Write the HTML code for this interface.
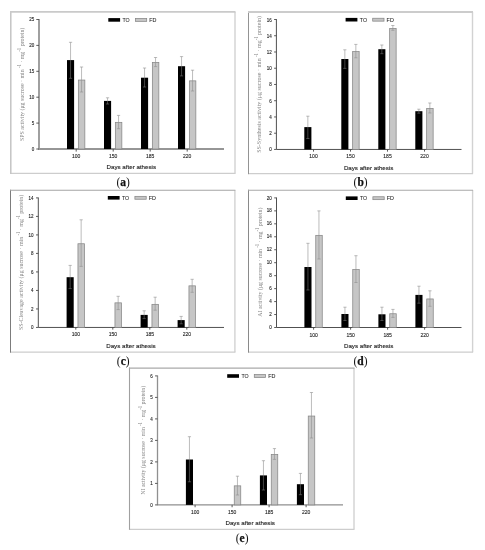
<!DOCTYPE html>
<html lang="en">
<head>
<meta charset="utf-8">
<title>Enzyme activity figure</title>
<style>
html,body{margin:0;padding:0;background:#fff;}
body{width:485px;height:550px;overflow:hidden;position:relative;}
svg{position:absolute;left:0;top:0;display:block;}
.tk{font-family:"Liberation Sans",Arial,sans-serif;font-size:4.5px;fill:#1c1c1c;stroke:#1c1c1c;stroke-width:0.1px;}
.xt{font-family:"Liberation Sans",Arial,sans-serif;font-size:6.18px;fill:#1a1a1a;stroke:#1a1a1a;stroke-width:0.12px;}
.lg{font-family:"Liberation Sans",Arial,sans-serif;font-size:5.4px;fill:#1a1a1a;stroke:#1a1a1a;stroke-width:0.05px;}
.yt{font-family:"Liberation Serif","Times New Roman",serif;fill:#858585;}
.cap{font-family:"Liberation Serif","Times New Roman",serif;font-size:11.5px;fill:#111;}
.cap tspan{font-weight:bold;stroke:#111;stroke-width:0.25px;}
.ax{stroke:#3a3a3a;stroke-width:0.8;fill:none;}
.eb{stroke:#8f8f8f;stroke-width:0.6;fill:none;}
.to{fill:#000;}
.fd{fill:#c6c6c6;stroke:#868686;stroke-width:0.75;}
.box{fill:#fff;stroke:#cfcfcf;stroke-width:1;}
</style>
</head>
<body>
<svg width="485" height="550" viewBox="0 0 485 550">
<g id="panel-a">
<path d="M235 11.9V173.4" stroke="#d2d2d2" stroke-width="1.4" fill="none"/>
<path d="M10.8 173.4H235.5" stroke="#cdcdcd" stroke-width="1.2" fill="none"/>
<path d="M10.8 10.95V173.9" stroke="#c4c4c4" stroke-width="1.5" fill="none"/>
<path d="M10.05 11.9H235.5" stroke="#cacaca" stroke-width="1.9" fill="none"/>
<path class="ax" d="M39 19.1V149H224" style="stroke:#969696;stroke-width:1.8"/>
<path class="ax" d="M36.3 149H39M36.3 123.1H39M36.3 97.2H39M36.3 71.3H39M36.3 45.4H39M36.3 19.5H39M76.2 149V151.6M113.2 149V151.6M150.2 149V151.6M187.2 149V151.6" style="stroke:#4a4a4a;stroke-width:0.9"/>
<rect class="to" x="67" y="60.1" width="7.1" height="88.9"/>
<path class="eb" d="M70.55 42.3V60.1M68.95 42.3H72.15"/>
<path class="eb" style="stroke:#6e6e6e" d="M70.55 60.1V78.3M68.95 78.3H72.15"/>
<rect class="fd" x="78.35" y="80.05" width="6.5" height="68.95"/>
<path class="eb" d="M81.55 67V92M79.95 67H83.15M79.95 92H83.15"/>
<rect class="to" x="104" y="100.9" width="7.1" height="48.1"/>
<path class="eb" d="M107.55 97.8V100.9M105.95 97.8H109.15"/>
<path class="eb" style="stroke:#6e6e6e" d="M107.55 100.9V104M105.95 104H109.15"/>
<rect class="fd" x="115.35" y="122.35" width="6.5" height="26.65"/>
<path class="eb" d="M118.55 115.4V128.7M116.95 115.4H120.15M116.95 128.7H120.15"/>
<rect class="to" x="141" y="77.7" width="7.1" height="71.3"/>
<path class="eb" d="M144.55 68V77.7M142.95 68H146.15"/>
<path class="eb" style="stroke:#6e6e6e" d="M144.55 77.7V87M142.95 87H146.15"/>
<rect class="fd" x="152.35" y="62.45" width="6.5" height="86.55"/>
<path class="eb" d="M155.55 57.5V66.6M153.95 57.5H157.15M153.95 66.6H157.15"/>
<rect class="to" x="178" y="66.2" width="7.1" height="82.8"/>
<path class="eb" d="M181.55 56.6V66.2M179.95 56.6H183.15"/>
<path class="eb" style="stroke:#6e6e6e" d="M181.55 66.2V75.9M179.95 75.9H183.15"/>
<rect class="fd" x="189.35" y="80.85" width="6.5" height="68.15"/>
<path class="eb" d="M192.55 70.2V91M190.95 70.2H194.15M190.95 91H194.15"/>
<text class="tk" x="34.3" y="150.6" text-anchor="end">0</text>
<text class="tk" x="34.3" y="124.7" text-anchor="end">5</text>
<text class="tk" x="34.3" y="98.8" text-anchor="end">10</text>
<text class="tk" x="34.3" y="72.9" text-anchor="end">15</text>
<text class="tk" x="34.3" y="47" text-anchor="end">20</text>
<text class="tk" x="34.3" y="21.1" text-anchor="end">25</text>
<text class="tk" style="font-size:5px" x="76.2" y="158.3" text-anchor="middle">100</text>
<text class="tk" style="font-size:5px" x="113.2" y="158.3" text-anchor="middle">150</text>
<text class="tk" style="font-size:5px" x="150.2" y="158.3" text-anchor="middle">185</text>
<text class="tk" style="font-size:5px" x="187.2" y="158.3" text-anchor="middle">220</text>
<text class="xt" x="131.3" y="169.1" text-anchor="middle">Days after athesis</text>
<rect class="to" x="108.3" y="18.1" width="11.8" height="3.6"/>
<text class="lg" x="122.5" y="21.55" textLength="7.2" lengthAdjust="spacingAndGlyphs">TO</text>
<rect class="fd" x="135.4" y="18.45" width="11.3" height="2.9"/>
<text class="lg" x="149.3" y="21.55" textLength="7.2" lengthAdjust="spacingAndGlyphs">FD</text>
<text class="yt" font-size="6.4" transform="translate(23.5 141) rotate(-90)" textLength="113.3" lengthAdjust="spacingAndGlyphs">SPS activity (μg sucrose · min<tspan dy="-3" font-size="5.12"> -1</tspan><tspan dy="3"> · mg</tspan><tspan dy="-3" font-size="5.12">-1</tspan><tspan dy="3"> protein)</tspan></text>
<text class="cap" x="123.2" y="186.3" text-anchor="middle">(<tspan>a</tspan>)</text>
</g>
<g id="panel-b">
<path d="M472.5 12V173.7" stroke="#d2d2d2" stroke-width="1.4" fill="none"/>
<path d="M248.5 173.7H473" stroke="#cdcdcd" stroke-width="1.2" fill="none"/>
<path d="M248.5 11.1V174.2" stroke="#949494" stroke-width="1" fill="none"/>
<path d="M248 12H473" stroke="#cccccc" stroke-width="1.8" fill="none"/>
<path class="ax" d="M276.4 19.1V149.45H461.5" style="stroke:#505050;stroke-width:1"/>
<path class="ax" d="M274.1 149.45H276.4M274.1 133.21H276.4M274.1 116.96H276.4M274.1 100.72H276.4M274.1 84.47H276.4M274.1 68.23H276.4M274.1 51.99H276.4M274.1 35.74H276.4M274.1 19.5H276.4M313.5 149.45V151.65M350.5 149.45V151.65M387.5 149.45V151.65M424.5 149.45V151.65" style="stroke:#4a4a4a;stroke-width:0.9"/>
<rect class="to" x="304.3" y="127.1" width="7.1" height="22.35"/>
<path class="eb" d="M307.85 116.2V127.1M306.25 116.2H309.45"/>
<path class="eb" style="stroke:#6e6e6e" d="M307.85 127.1V138.5M306.25 138.5H309.45"/>
<rect class="to" x="341.3" y="59" width="7.1" height="90.45"/>
<path class="eb" d="M344.85 49.8V59M343.25 49.8H346.45"/>
<path class="eb" style="stroke:#6e6e6e" d="M344.85 59V68.4M343.25 68.4H346.45"/>
<rect class="fd" x="352.65" y="51.55" width="6.5" height="97.9"/>
<path class="eb" d="M355.85 44.4V57.8M354.25 44.4H357.45M354.25 57.8H357.45"/>
<rect class="to" x="378.3" y="49.2" width="7.1" height="100.25"/>
<path class="eb" d="M381.85 45V49.2M380.25 45H383.45"/>
<path class="eb" style="stroke:#6e6e6e" d="M381.85 49.2V53.7M380.25 53.7H383.45"/>
<rect class="fd" x="389.65" y="28.45" width="6.5" height="121"/>
<path class="eb" d="M392.85 25.5V30.3M391.25 25.5H394.45M391.25 30.3H394.45"/>
<rect class="to" x="415.3" y="111.2" width="7.1" height="38.25"/>
<path class="eb" d="M418.85 109.2V111.2M417.25 109.2H420.45"/>
<path class="eb" style="stroke:#6e6e6e" d="M418.85 111.2V113.2M417.25 113.2H420.45"/>
<rect class="fd" x="426.65" y="108.45" width="6.5" height="41"/>
<path class="eb" d="M429.85 103V113M428.25 103H431.45M428.25 113H431.45"/>
<text class="tk" x="271.7" y="151.45" text-anchor="end">0</text>
<text class="tk" x="271.7" y="135.21" text-anchor="end">2</text>
<text class="tk" x="271.7" y="118.96" text-anchor="end">4</text>
<text class="tk" x="271.7" y="102.72" text-anchor="end">6</text>
<text class="tk" x="271.7" y="86.47" text-anchor="end">8</text>
<text class="tk" x="271.7" y="70.23" text-anchor="end">10</text>
<text class="tk" x="271.7" y="53.99" text-anchor="end">12</text>
<text class="tk" x="271.7" y="37.74" text-anchor="end">14</text>
<text class="tk" x="271.7" y="21.5" text-anchor="end">16</text>
<text class="tk" style="font-size:5px" x="313.5" y="158.15" text-anchor="middle">100</text>
<text class="tk" style="font-size:5px" x="350.5" y="158.15" text-anchor="middle">150</text>
<text class="tk" style="font-size:5px" x="387.5" y="158.15" text-anchor="middle">185</text>
<text class="tk" style="font-size:5px" x="424.5" y="158.15" text-anchor="middle">220</text>
<text class="xt" x="368.6" y="169.55" text-anchor="middle">Days after athesis</text>
<rect class="to" x="345.6" y="17.9" width="11.8" height="3.6"/>
<text class="lg" x="359.8" y="21.65" textLength="7.2" lengthAdjust="spacingAndGlyphs">TO</text>
<rect class="fd" x="372.7" y="18.25" width="11.3" height="2.9"/>
<text class="lg" x="386.6" y="21.65" textLength="7.2" lengthAdjust="spacingAndGlyphs">FD</text>
<text class="yt" font-size="6.4" transform="translate(260.8 152.8) rotate(-90)" textLength="136.9" lengthAdjust="spacingAndGlyphs">SS-Synthesis activity (μg sucrose · min<tspan dy="-3" font-size="5.12"> -1</tspan><tspan dy="3"> · mg</tspan><tspan dy="-3" font-size="5.12">-1</tspan><tspan dy="3"> protein)</tspan></text>
<text class="cap" x="360.6" y="186.3" text-anchor="middle">(<tspan>b</tspan>)</text>
</g>
<g id="panel-c">
<path d="M234.9 190.3V352.2" stroke="#d2d2d2" stroke-width="1.4" fill="none"/>
<path d="M10.5 352.2H235.4" stroke="#cdcdcd" stroke-width="1.2" fill="none"/>
<path d="M10.5 189.75V352.7" stroke="#7c7c7c" stroke-width="1" fill="none"/>
<path d="M10 190.3H235.4" stroke="#a4a4a4" stroke-width="1.1" fill="none"/>
<path class="ax" d="M38.3 197.5V327.45H224" style="stroke:#505050;stroke-width:1"/>
<path class="ax" d="M36 327.45H38.3M36 308.94H38.3M36 290.44H38.3M36 271.93H38.3M36 253.42H38.3M36 234.91H38.3M36 216.41H38.3M36 197.9H38.3M75.8 327.45V329.65M112.8 327.45V329.65M149.8 327.45V329.65M186.8 327.45V329.65" style="stroke:#4a4a4a;stroke-width:0.9"/>
<rect class="to" x="66.6" y="277.2" width="7.1" height="50.25"/>
<path class="eb" d="M70.15 265.4V277.2M68.55 265.4H71.75"/>
<path class="eb" style="stroke:#6e6e6e" d="M70.15 277.2V288.6M68.55 288.6H71.75"/>
<rect class="fd" x="77.95" y="243.75" width="6.5" height="83.7"/>
<path class="eb" d="M81.15 219.8V266.4M79.55 219.8H82.75M79.55 266.4H82.75"/>
<rect class="fd" x="114.95" y="302.85" width="6.5" height="24.6"/>
<path class="eb" d="M118.15 296.3V309.6M116.55 296.3H119.75M116.55 309.6H119.75"/>
<rect class="to" x="140.6" y="314.9" width="7.1" height="12.55"/>
<path class="eb" d="M144.15 310.8V314.9M142.55 310.8H145.75"/>
<path class="eb" style="stroke:#6e6e6e" d="M144.15 314.9V318.6M142.55 318.6H145.75"/>
<rect class="fd" x="151.95" y="304.35" width="6.5" height="23.1"/>
<path class="eb" d="M155.15 297.2V310.2M153.55 297.2H156.75M153.55 310.2H156.75"/>
<rect class="to" x="177.6" y="320.1" width="7.1" height="7.35"/>
<path class="eb" d="M181.15 316.4V320.1M179.55 316.4H182.75"/>
<path class="eb" style="stroke:#6e6e6e" d="M181.15 320.1V323.8M179.55 323.8H182.75"/>
<rect class="fd" x="188.95" y="285.85" width="6.5" height="41.6"/>
<path class="eb" d="M192.15 279.3V292.3M190.55 279.3H193.75M190.55 292.3H193.75"/>
<text class="tk" x="33.6" y="329.05" text-anchor="end">0</text>
<text class="tk" x="33.6" y="310.54" text-anchor="end">2</text>
<text class="tk" x="33.6" y="292.04" text-anchor="end">4</text>
<text class="tk" x="33.6" y="273.53" text-anchor="end">6</text>
<text class="tk" x="33.6" y="255.02" text-anchor="end">8</text>
<text class="tk" x="33.6" y="236.51" text-anchor="end">10</text>
<text class="tk" x="33.6" y="218.01" text-anchor="end">12</text>
<text class="tk" x="33.6" y="199.5" text-anchor="end">14</text>
<text class="tk" style="font-size:5px" x="75.8" y="336.45" text-anchor="middle">100</text>
<text class="tk" style="font-size:5px" x="112.8" y="336.45" text-anchor="middle">150</text>
<text class="tk" style="font-size:5px" x="149.8" y="336.45" text-anchor="middle">185</text>
<text class="tk" style="font-size:5px" x="186.8" y="336.45" text-anchor="middle">220</text>
<text class="xt" x="130.9" y="347.55" text-anchor="middle">Days after athesis</text>
<rect class="to" x="107.8" y="196" width="11.8" height="3.6"/>
<text class="lg" x="122" y="199.95" textLength="7.2" lengthAdjust="spacingAndGlyphs">TO</text>
<rect class="fd" x="134.9" y="196.35" width="11.3" height="2.9"/>
<text class="lg" x="148.8" y="199.95" textLength="7.2" lengthAdjust="spacingAndGlyphs">FD</text>
<text class="yt" font-size="6.4" transform="translate(23 330) rotate(-90)" textLength="135.2" lengthAdjust="spacingAndGlyphs">SS-Cleavage activity (μg sucrose · min<tspan dy="-3" font-size="5.12"> -1</tspan><tspan dy="3"> · mg</tspan><tspan dy="-3" font-size="5.12">-1</tspan><tspan dy="3"> protein)</tspan></text>
<text class="cap" x="123.2" y="364.5" text-anchor="middle">(<tspan>c</tspan>)</text>
</g>
<g id="panel-d">
<path d="M472.6 190.3V352.2" stroke="#d2d2d2" stroke-width="1.4" fill="none"/>
<path d="M248.5 352.2H473.1" stroke="#cdcdcd" stroke-width="1.2" fill="none"/>
<path d="M248.5 189.75V352.7" stroke="#8a8a8a" stroke-width="1" fill="none"/>
<path d="M248 190.3H473.1" stroke="#a8a8a8" stroke-width="1.1" fill="none"/>
<path class="ax" d="M276.5 197.5V327.5H461.5" style="stroke:#505050;stroke-width:1"/>
<path class="ax" d="M274.2 327.5H276.5M274.2 314.54H276.5M274.2 301.58H276.5M274.2 288.62H276.5M274.2 275.66H276.5M274.2 262.7H276.5M274.2 249.74H276.5M274.2 236.78H276.5M274.2 223.82H276.5M274.2 210.86H276.5M274.2 197.9H276.5M313.6 327.5V329.7M350.6 327.5V329.7M387.6 327.5V329.7M424.6 327.5V329.7" style="stroke:#4a4a4a;stroke-width:0.9"/>
<rect class="to" x="304.4" y="267" width="7.1" height="60.5"/>
<path class="eb" d="M307.95 243.3V267M306.35 243.3H309.55"/>
<path class="eb" style="stroke:#6e6e6e" d="M307.95 267V290M306.35 290H309.55"/>
<rect class="fd" x="315.75" y="235.35" width="6.5" height="92.15"/>
<path class="eb" d="M318.95 210.9V259M317.35 210.9H320.55M317.35 259H320.55"/>
<rect class="to" x="341.4" y="314" width="7.1" height="13.5"/>
<path class="eb" d="M344.95 307.2V314M343.35 307.2H346.55"/>
<path class="eb" style="stroke:#6e6e6e" d="M344.95 314V320.5M343.35 320.5H346.55"/>
<rect class="fd" x="352.75" y="269.55" width="6.5" height="57.95"/>
<path class="eb" d="M355.95 255.7V282.5M354.35 255.7H357.55M354.35 282.5H357.55"/>
<rect class="to" x="378.4" y="314.3" width="7.1" height="13.2"/>
<path class="eb" d="M381.95 307.2V314.3M380.35 307.2H383.55"/>
<path class="eb" style="stroke:#6e6e6e" d="M381.95 314.3V320.5M380.35 320.5H383.55"/>
<rect class="fd" x="389.75" y="313.75" width="6.5" height="13.75"/>
<path class="eb" d="M392.95 309.4V317.4M391.35 309.4H394.55M391.35 317.4H394.55"/>
<rect class="to" x="415.4" y="294.9" width="7.1" height="32.6"/>
<path class="eb" d="M418.95 286.2V294.9M417.35 286.2H420.55"/>
<path class="eb" style="stroke:#6e6e6e" d="M418.95 294.9V303.2M417.35 303.2H420.55"/>
<rect class="fd" x="426.75" y="298.95" width="6.5" height="28.55"/>
<path class="eb" d="M429.95 290.8V306.3M428.35 290.8H431.55M428.35 306.3H431.55"/>
<text class="tk" x="271.8" y="329.1" text-anchor="end">0</text>
<text class="tk" x="271.8" y="316.14" text-anchor="end">2</text>
<text class="tk" x="271.8" y="303.18" text-anchor="end">4</text>
<text class="tk" x="271.8" y="290.22" text-anchor="end">6</text>
<text class="tk" x="271.8" y="277.26" text-anchor="end">8</text>
<text class="tk" x="271.8" y="264.3" text-anchor="end">10</text>
<text class="tk" x="271.8" y="251.34" text-anchor="end">12</text>
<text class="tk" x="271.8" y="238.38" text-anchor="end">14</text>
<text class="tk" x="271.8" y="225.42" text-anchor="end">16</text>
<text class="tk" x="271.8" y="212.46" text-anchor="end">18</text>
<text class="tk" x="271.8" y="199.5" text-anchor="end">20</text>
<text class="tk" style="font-size:5px" x="313.6" y="336.5" text-anchor="middle">100</text>
<text class="tk" style="font-size:5px" x="350.6" y="336.5" text-anchor="middle">150</text>
<text class="tk" style="font-size:5px" x="387.6" y="336.5" text-anchor="middle">185</text>
<text class="tk" style="font-size:5px" x="424.6" y="336.5" text-anchor="middle">220</text>
<text class="xt" x="368.7" y="347.6" text-anchor="middle">Days after athesis</text>
<rect class="to" x="345.8" y="196.4" width="11.8" height="3.6"/>
<text class="lg" x="360" y="199.55" textLength="7.2" lengthAdjust="spacingAndGlyphs">TO</text>
<rect class="fd" x="372.9" y="196.75" width="11.3" height="2.9"/>
<text class="lg" x="386.8" y="199.55" textLength="7.2" lengthAdjust="spacingAndGlyphs">FD</text>
<text class="yt" font-size="6.4" transform="translate(262.1 316.7) rotate(-90)" textLength="109.1" lengthAdjust="spacingAndGlyphs">AI activity (μg sucrose · min<tspan dy="-3" font-size="5.12"> -1</tspan><tspan dy="3"> · mg</tspan><tspan dy="-3" font-size="5.12">-1</tspan><tspan dy="3"> protein)</tspan></text>
<text class="cap" x="360.5" y="364.5" text-anchor="middle">(<tspan>d</tspan>)</text>
</g>
<g id="panel-e">
<path d="M354 368.1V529.3" stroke="#d2d2d2" stroke-width="1.4" fill="none"/>
<path d="M129.5 529.3H354.5" stroke="#cdcdcd" stroke-width="1.2" fill="none"/>
<path d="M129.5 367.55V529.8" stroke="#a0a0a0" stroke-width="1.1" fill="none"/>
<path d="M128.95 368.1H354.5" stroke="#aaaaaa" stroke-width="1.1" fill="none"/>
<path class="ax" d="M157.5 375.5V504.9H343" style="stroke:#909090;stroke-width:1.3"/>
<path class="ax" d="M155.05 504.9H157.5M155.05 483.4H157.5M155.05 461.9H157.5M155.05 440.4H157.5M155.05 418.9H157.5M155.05 397.4H157.5M155.05 375.9H157.5M195.1 504.9V507.25M232.1 504.9V507.25M269.1 504.9V507.25M306.1 504.9V507.25" style="stroke:#4a4a4a;stroke-width:0.9"/>
<rect class="to" x="185.9" y="459.5" width="7.1" height="45.4"/>
<path class="eb" d="M189.45 436.7V459.5M187.85 436.7H191.05"/>
<path class="eb" style="stroke:#6e6e6e" d="M189.45 459.5V481.8M187.85 481.8H191.05"/>
<rect class="fd" x="234.25" y="485.85" width="6.5" height="19.05"/>
<path class="eb" d="M237.45 476.2V495M235.85 476.2H239.05M235.85 495H239.05"/>
<rect class="to" x="259.9" y="475.4" width="7.1" height="29.5"/>
<path class="eb" d="M263.45 460.7V475.4M261.85 460.7H265.05"/>
<path class="eb" style="stroke:#6e6e6e" d="M263.45 475.4V490M261.85 490H265.05"/>
<rect class="fd" x="271.25" y="454.45" width="6.5" height="50.45"/>
<path class="eb" d="M274.45 448.6V459.4M272.85 448.6H276.05M272.85 459.4H276.05"/>
<rect class="to" x="296.9" y="484.2" width="7.1" height="20.7"/>
<path class="eb" d="M300.45 473.4V484.2M298.85 473.4H302.05"/>
<path class="eb" style="stroke:#6e6e6e" d="M300.45 484.2V494.7M298.85 494.7H302.05"/>
<rect class="fd" x="308.25" y="416.05" width="6.5" height="88.85"/>
<path class="eb" d="M311.45 392.5V438M309.85 392.5H313.05M309.85 438H313.05"/>
<text class="tk" x="152.8" y="506.5" text-anchor="end">0</text>
<text class="tk" x="152.8" y="485" text-anchor="end">1</text>
<text class="tk" x="152.8" y="463.5" text-anchor="end">2</text>
<text class="tk" x="152.8" y="442" text-anchor="end">3</text>
<text class="tk" x="152.8" y="420.5" text-anchor="end">4</text>
<text class="tk" x="152.8" y="399" text-anchor="end">5</text>
<text class="tk" x="152.8" y="377.5" text-anchor="end">6</text>
<text class="tk" style="font-size:5px" x="195.1" y="514.1" text-anchor="middle">100</text>
<text class="tk" style="font-size:5px" x="232.1" y="514.1" text-anchor="middle">150</text>
<text class="tk" style="font-size:5px" x="269.1" y="514.1" text-anchor="middle">185</text>
<text class="tk" style="font-size:5px" x="306.1" y="514.1" text-anchor="middle">220</text>
<text class="xt" x="250.2" y="525" text-anchor="middle">Days after athesis</text>
<rect class="to" x="227.2" y="374.2" width="11.8" height="3.6"/>
<text class="lg" x="241.4" y="377.75" textLength="7.2" lengthAdjust="spacingAndGlyphs">TO</text>
<rect class="fd" x="254.3" y="374.55" width="11.3" height="2.9"/>
<text class="lg" x="268.2" y="377.75" textLength="7.2" lengthAdjust="spacingAndGlyphs">FD</text>
<text class="yt" font-size="6.4" transform="translate(145.3 494.7) rotate(-90)" textLength="108.8" lengthAdjust="spacingAndGlyphs">NI activity (μg sucrose · min<tspan dy="-3" font-size="5.12"> -1</tspan><tspan dy="3"> · mg</tspan><tspan dy="-3" font-size="5.12">-1</tspan><tspan dy="3"> protein)</tspan></text>
<text class="cap" x="242.1" y="542" text-anchor="middle">(<tspan>e</tspan>)</text>
</g>
</svg>
</body>
</html>
